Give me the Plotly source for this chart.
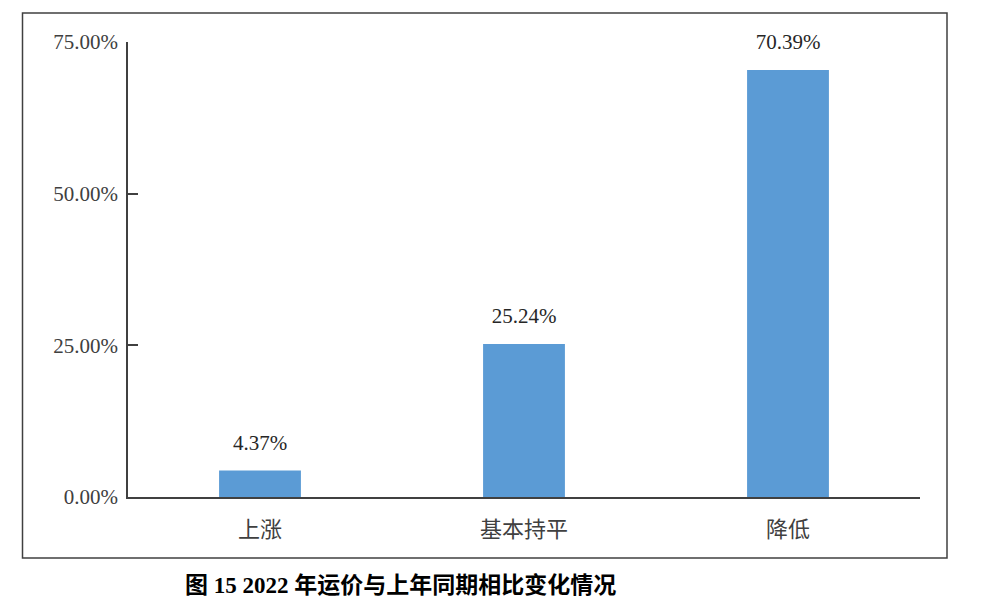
import plotly.graph_objects as go

categories = ["上涨", "基本持平", "降低"]
values = [4.37, 25.24, 70.39]
tick_vals = [0, 25, 50, 75]
tick_text = ["0.00%", "25.00%", "50.00%", "75.00%"]
title_text = "图 15 2022 年运价与上年同期相比变化情况"

BAR = "#5B9BD5"
AX = "#404040"
FONT = "Liberation Serif, Noto Sans CJK SC, serif"
SERIF = "Liberation Serif"

fig = go.Figure()
fig.add_trace(go.Bar(x=categories, y=values, width=0.31,
                     marker=dict(color=BAR, line=dict(width=0)),
                     hoverinfo="skip"))
fig.add_trace(go.Scatter(x=categories, y=values, mode="markers+text",
                         text=[f"{v:.2f}%" for v in values], textposition="top center",
                         textfont=dict(family=SERIF, size=21, color="#262626"),
                         marker=dict(size=23, color="rgba(0,0,0,0)"),
                         cliponaxis=False, hoverinfo="skip"))

fig.add_annotation(x=(400 - 128) / 792, y=(497 - 585) / 455, xref="paper", yref="paper",
                   text=f"<b>{title_text}</b>", showarrow=False,
                   xanchor="center", yanchor="middle",
                   font=dict(family=FONT, size=23, color="#000000"))

fig.add_shape(type="rect", xref="paper", yref="paper",
              x0=(22.5 - 128) / 792, x1=(947 - 128) / 792,
              y0=(497 - 558) / 455, y1=(497 - 13) / 455,
              line=dict(color="#404040", width=1.5), fillcolor="rgba(0,0,0,0)", layer="below")

fig.update_layout(
    width=1000, height=616,
    margin=dict(l=128, r=80, t=42, b=119),
    paper_bgcolor="white", plot_bgcolor="white",
    showlegend=False,
    font=dict(family=SERIF),
    xaxis=dict(type="category", range=[-0.5, 2.5], showline=True, linecolor=AX, linewidth=1.5,
               showgrid=False, ticks="", ticklabelstandoff=12,
               tickfont=dict(family=FONT, size=22, color="#404040"), zeroline=False),
    yaxis=dict(range=[0, 75], tickvals=tick_vals, ticktext=tick_text,
               showline=True, linecolor=AX, linewidth=1.5, showgrid=False, zeroline=False,
               ticks="inside", ticklen=10, tickwidth=1.5, tickcolor=AX, ticklabelstandoff=4,
               tickfont=dict(family=SERIF, size=21, color="#404040")),
)

fig.write_html("out.html")
